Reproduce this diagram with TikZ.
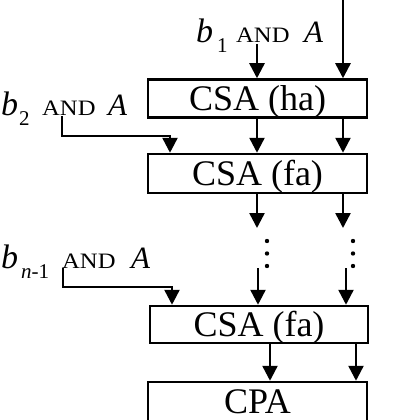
\documentclass[tikz,border=0pt]{standalone}
\usepackage{fontspec}
\setmainfont{Liberation Serif}
\usetikzlibrary{arrows.meta}
\newcommand\andtxt{\scalebox{1.12}[1]{\fontsize{22}{22}\selectfont AND}}
\newcommand\lbsub[1]{\raisebox{-10pt}{\fontsize{21}{21}\selectfont #1}}
\newcommand\labeltxt[4]{\rlap{\fontsize{34}{34}\selectfont\itshape b}\hspace{#2pt}\rlap{\lbsub{#1}}\hspace{#3pt}\rlap{\andtxt}\hspace{#4pt}\rlap{\fontsize{31}{31}\selectfont\itshape A}}
\begin{document}
\begin{tikzpicture}[x=1pt,y=-1pt,
  box/.style={draw,line width=2.5pt,minimum width=219pt,inner sep=0pt,
    text height=23.8pt,text depth=0pt,font=\fontsize{36}{36}\selectfont},
  arr/.style={line width=2.5pt,-{Triangle[width=15pt,length=15pt]}},
  lbl/.style={anchor=base west,inner sep=0pt},
  dot/.style={circle,fill,inner sep=0pt,minimum size=4.4pt}]
\useasboundingbox (0,0) rectangle (420,420);
\clip (0,0) rectangle (420,420);
% boxes
\node[box,minimum height=38pt] (csa1) at (257.5,98.5) {CSA (ha)};
\node[box,minimum height=39pt] (csa2) at (257.5,173.5) {CSA (fa)};
\node[box,minimum height=37pt,minimum width=218pt] (csa3) at (259,324.5) {CSA (fa)};
\node[box,minimum height=39pt] (cpa) at (257.5,401.5) {CPA};
% labels
\node[lbl] (l1) at (196,42.5) {\labeltxt{1}{21}{19}{68}};
\node[lbl] (l2) at (1,115) {\labeltxt{2}{18}{23}{66}};
\node[lbl] (l3) at (1,268) {\labeltxt{{\itshape n}-1}{20}{41}{69}};
% top inputs
\coordinate (t1) at (257,44);
\coordinate (t2) at (343,-2);
\draw[arr] (t1) -- (t1 |- csa1.north);
\draw[arr] (t2) -- (t2 |- csa1.north);
\draw[arr] (csa1.south -| t1) -- (csa2.north -| t1);
\draw[arr] (csa1.south -| t2) -- (csa2.north -| t2);
% b2 line
\coordinate (s2) at (62,116);
\coordinate (k2) at (170,136);
\draw[arr] (s2) |- (k2) -- (k2 |- csa2.north);
% outputs of csa2
\coordinate (d1) at (257,228);
\coordinate (d2) at (343,228);
\draw[arr] (csa2.south -| d1) -- (d1);
\draw[arr] (csa2.south -| d2) -- (d2);
% dots
\foreach \yy [count=\i] in {241,253.5,266}{
  \node[dot] (da\i) at (267,\yy) {};
  \node[dot] (db\i) at (353,\yy) {};
}
% inputs of csa3
\coordinate (e1) at (258,268);
\coordinate (e2) at (346,268);
\draw[arr] (e1) -- (e1 |- csa3.north);
\draw[arr] (e2) -- (e2 |- csa3.north);
\coordinate (sn) at (63,268);
\coordinate (kn) at (172,287);
\draw[arr] (sn) |- (kn) -- (kn |- csa3.north);
% csa3 to cpa
\coordinate (f1) at (270,343);
\coordinate (f2) at (356,343);
\draw[arr] (csa3.south -| f1) -- (cpa.north -| f1);
\draw[arr] (csa3.south -| f2) -- (cpa.north -| f2);
\end{tikzpicture}
\end{document}
